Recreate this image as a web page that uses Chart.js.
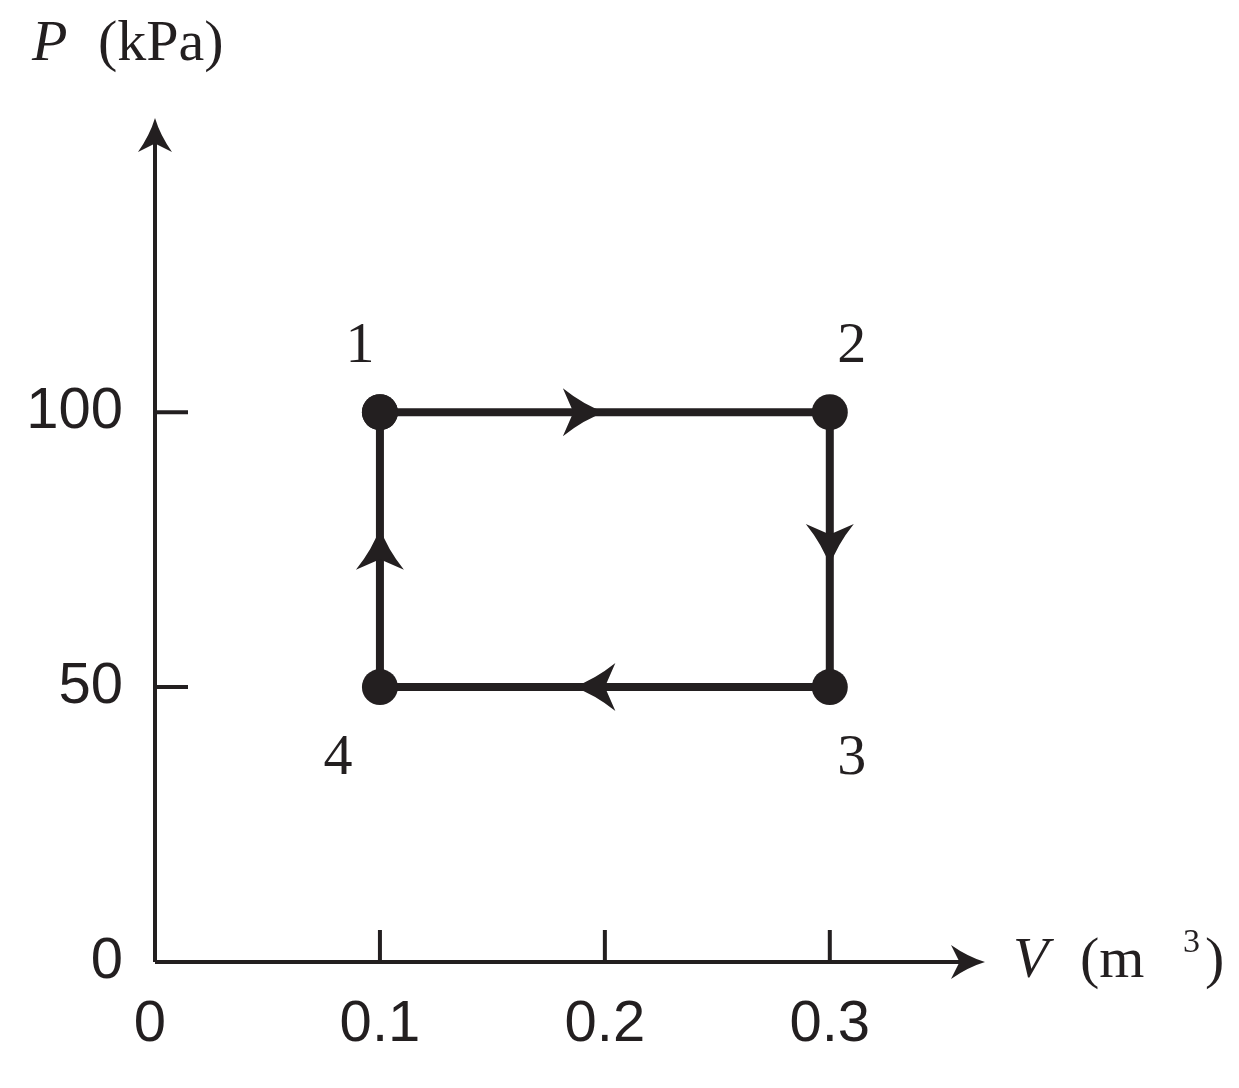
<!DOCTYPE html>
<html><head><meta charset="utf-8">
<script src="https://cdn.jsdelivr.net/npm/chart.js@4"></script>
<style>html,body{margin:0;background:#fff}#w{width:1239px;height:1088px}</style>
</head><body><div id="w"><canvas id="c"></canvas></div>
<script>
const stateLabels = ['1','2','3','4'];
const volumes = [0.1, 0.3, 0.3, 0.1];
const pressures = [100, 100, 50, 50];
const xTicks = [0.1, 0.2, 0.3];
const xTickLabels = ['0.1','0.2','0.3'];
const yTicks = [50, 100];
const yTickLabels = ['50','100'];
// arrow positions along each leg: [x, y, direction]
const arrowX = [0.2, 0.3, 0.186, 0.1];
const arrowY = [100, 72, 50, 79];
const arrowDir = ['right','down','left','up'];

const pts = volumes.map((v,i)=>({x:v,y:pressures[i]}));
const loop = pts.concat([pts[0]]);

const plug = {
  id:'pv',
  afterDraw(ch){
    const c=ch.ctx, xs=ch.scales.x, ys=ch.scales.y;
    const x0=xs.getPixelForValue(0), y0=ys.getPixelForValue(0);
    const xr=xs.right, yt=ys.top;
    c.save();
    c.strokeStyle='#231f20'; c.fillStyle='#231f20'; c.lineWidth=4;
    c.beginPath(); c.moveTo(x0,y0); c.lineTo(xr-10,y0); c.moveTo(x0,y0); c.lineTo(x0,yt+10); c.stroke();
    // axis arrowheads
    function head(tx,ty,ang,L,W){
      c.save(); c.translate(tx,ty); c.rotate(ang);
      c.beginPath(); c.moveTo(0,0); c.quadraticCurveTo(-L*0.5,-W*0.3,-L,-W);
      c.lineTo(-L*0.75,0); c.lineTo(-L,W); c.quadraticCurveTo(-L*0.5,W*0.3,0,0); c.fill(); c.restore();
    }
    head(xr,y0,0,34,17); head(x0,yt,-Math.PI/2,34,17);
    // ticks
    c.font='58px "Liberation Sans", Arial'; c.textAlign='center'; c.textBaseline='middle';
    xTicks.forEach((t,i)=>{const px=xs.getPixelForValue(t);
      c.beginPath(); c.moveTo(px,y0); c.lineTo(px,y0-32); c.stroke();
      c.fillText(xTickLabels[i],px,1025);});
    c.fillText('0',x0-5,1025);
    c.textAlign='right';
    yTicks.forEach((t,i)=>{const py=ys.getPixelForValue(t);
      c.beginPath(); c.moveTo(x0,py); c.lineTo(x0+33,py); c.stroke();
      c.fillText(yTickLabels[i],x0-32,py);});
    c.fillText('0',x0-32,y0);
    // cycle arrows
    const ang={right:0,down:Math.PI/2,left:Math.PI,up:-Math.PI/2};
    arrowX.forEach((v,i)=>head(xs.getPixelForValue(v),ys.getPixelForValue(arrowY[i]),ang[arrowDir[i]],42,24));
    // state labels
    c.font='58px "Liberation Serif", "Times New Roman"'; c.textAlign='center';
    const off=[[-20,-65],[22,-65],[22,72],[-42,72]];
    pts.forEach((p,i)=>c.fillText(stateLabels[i],xs.getPixelForValue(p.x)+off[i][0],ys.getPixelForValue(p.y)+off[i][1]));
    // axis titles
    c.textAlign='left';
    c.font='italic 58px "Liberation Serif"'; c.fillText('P',32,45);
    c.font='58px "Liberation Serif"'; c.fillText('(kPa)',98,45);
    c.font='italic 58px "Liberation Serif"'; c.fillText('V',1013,962);
    c.font='58px "Liberation Serif"'; c.fillText('(m',1080,962);
    c.font='34px "Liberation Serif"'; c.fillText('3',1183,943);
    c.font='58px "Liberation Serif"'; c.fillText(')',1205,962);
    c.restore();
  }
};

new Chart(document.getElementById('c'),{
  type:'scatter',
  data:{datasets:[{data:loop,showLine:true,borderColor:'#231f20',borderWidth:8,
    pointRadius:18,pointHoverRadius:18,pointBackgroundColor:'#231f20',pointBorderWidth:0}]},
  options:{responsive:true,maintainAspectRatio:false,animation:false,
    layout:{padding:{left:155,right:254,top:118,bottom:126}},
    plugins:{legend:{display:false},tooltip:{enabled:false}},
    scales:{x:{type:'linear',min:0,max:0.369,display:false},
            y:{type:'linear',min:0,max:153.5,display:false}}},
  plugins:[plug]
});
</script></body></html>
